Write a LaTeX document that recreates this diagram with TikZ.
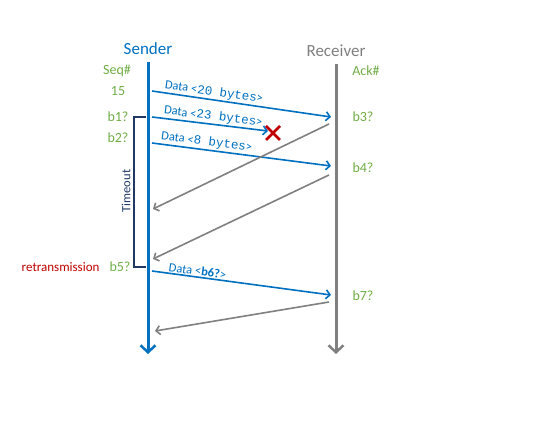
\documentclass[tikz,border=0pt]{standalone}
\usepackage{fontspec}
\setmainfont{Carlito}
\newfontfamily\monofont{Liberation Mono}
\usetikzlibrary{arrows.meta}
\usetikzlibrary{positioning}
\definecolor{sendblue}{RGB}{0,112,192}
\definecolor{recvgray}{RGB}{128,128,128}
\definecolor{seqgreen}{RGB}{112,173,71}
\definecolor{lossred}{RGB}{192,0,0}
\definecolor{timenavy}{RGB}{31,56,100}
\tikzset{lifeline/.style = {line width = 3pt, -{Straight Barb[length = 7pt, width = 15pt, line width = 2.5pt]}}}
\tikzset{msg/.style = {sendblue, line width = 1.6pt, -{Straight Barb[length = 4pt, width = 9pt, line width = 1.6pt]}}}
\tikzset{ack/.style = {recvgray, line width = 1.6pt, -{Straight Barb[length = 4pt, width = 9pt, line width = 1.6pt]}}}
\tikzset{lbl/.style = {sendblue, sloped, above, inner sep = 1pt, font = \fontsize{12.5}{14}\selectfont}}
\tikzset{seq/.style = {seqgreen, font = \fontsize{14}{16}\selectfont}}
\tikzset{head/.style = {font = \fontsize{17}{19}\selectfont}}

\begin{document}
\begin{tikzpicture}[x = 1pt, y = -1pt]
    \useasboundingbox (0, 0) rectangle (542, 430);

    % lifelines
    \node [head, sendblue] (sender) at (148, 49) {Sender};
    \node [head, recvgray] (receiver) at (336, 51) {Receiver};
    \coordinate (stop) at (148, 62);
    \coordinate (sbot) at (148, 354);
    \coordinate (rtop) at (336, 64);
    \coordinate (rbot) at (336, 354);
    \draw [lifeline, sendblue] (stop) -- (sbot);
    \draw [lifeline, recvgray] (rtop) -- (rbot);

    % sequence and ack numbers
    \node [seq] (seqh) at (117, 71) {Seq\#};
    \node [seq] (seq0) at (118, 91) {15};
    \node [seq] (seq1) at (118, 117) {b1?};
    \node [seq] (seq2) at (118, 138) {b2?};
    \node [seq] (seq5) at (120, 267) {b5?};
    \node [lossred, font = \fontsize{13}{15}\selectfont, left = 3pt of seq5] (retx) {retransmission};
    \node [seq] (ackh) at (366, 71) {Ack\#};
    \node [seq] (ack3) at (363, 117) {b3?};
    \node [seq] (ack4) at (363, 168) {b4?};
    \node [seq] (ack7) at (363, 296) {b7?};

    % data segments
    \coordinate (s1) at (152, 91);
    \coordinate (r1) at (331, 117);
    \coordinate (s2) at (152, 117);
    \coordinate (lost) at (268, 131);
    \coordinate (s3) at (152, 143);
    \coordinate (r3) at (331, 166);
    \coordinate (s4) at (152, 271);
    \coordinate (r4) at (331, 295);
    \draw [msg] (s1) -- (r1) node [lbl, pos = 0.34] {Data <{\monofont 20 bytes}>};
    \draw [msg] (s2) -- (lost) node [lbl, pos = 0.52] {Data <{\monofont 23 bytes}>};
    \draw [msg] (s3) -- (r3) node [lbl, pos = 0.3] {Data <{\monofont 8 bytes}>};
    \draw [msg] (s4) -- (r4) node [lbl, pos = 0.25] {Data <\textbf{b6?}>};

    % lost segment
    \coordinate (cross) at (273, 133);
    \draw [lossred, line width = 2.5pt] ([shift = {(-7, -7)}] cross) -- ([shift = {(7, 7)}] cross);
    \draw [lossred, line width = 2.5pt] ([shift = {(-7, 7)}] cross) -- ([shift = {(7, -7)}] cross);

    % acknowledgements
    \coordinate (a1) at (329, 124);
    \coordinate (b1) at (153, 209);
    \coordinate (a2) at (329, 175);
    \coordinate (b2) at (153, 259);
    \coordinate (a3) at (329, 302);
    \coordinate (b3) at (155, 331);
    \draw [ack] (a1) -- (b1);
    \draw [ack] (a2) -- (b2);
    \draw [ack] (a3) -- (b3);

    % timeout bracket
    \coordinate (tA) at (146, 117);
    \coordinate (tB) at (146, 267);
    \draw [timenavy, line width = 1.2pt] (tA) -- ++(-12, 0) |- (tB);
    \node [timenavy, rotate = 90, font = \fontsize{12.5}{14}\selectfont] (tout) at (126, 191) {Timeout};
  \end{tikzpicture}
\end{document}
